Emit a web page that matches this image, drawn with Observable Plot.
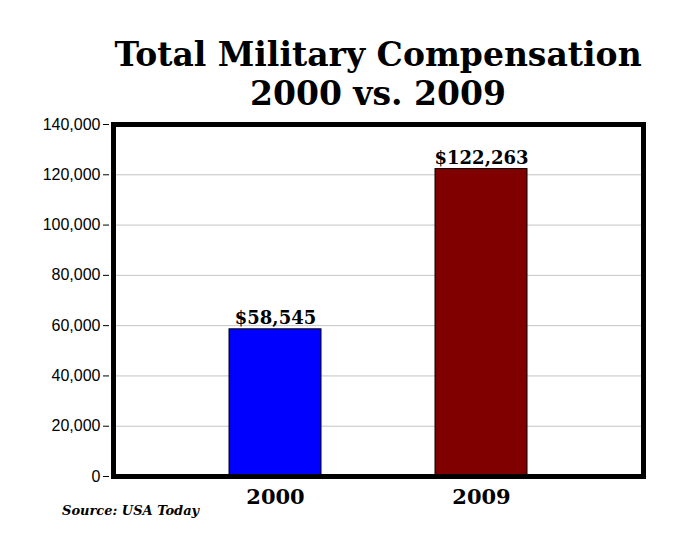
<!DOCTYPE html>
<html>
<head>
<meta charset="utf-8">
<script src="https://cdn.jsdelivr.net/npm/d3@7"></script>
<script src="https://cdn.jsdelivr.net/npm/@observablehq/plot@0.6"></script>
<style>
  body { margin: 0; background: #fff; }
  #wrap { position: relative; width: 687px; height: 550px; background: #fff; }
  #title {
    box-sizing: border-box; height: 115px; padding-top: 35px; margin-left: 113px; width: 530px;
    text-align: center; font-family: "DejaVu Serif", serif; font-weight: bold; font-size: 33px; line-height: 39px; color: #000;
    white-space: nowrap;
  }
  #caption {
    position: absolute; left: 62px; top: 504px; font-family: "DejaVu Serif", serif; font-weight: bold; font-style: italic;
    font-size: 13px; line-height: 13px; color: #000;
  }
</style>
</head>
<body>
<div id="wrap">
  <div id="title">Total Military Compensation<br>2000 vs. 2009</div>
  <div id="chart"></div>
  <div id="caption">Source: USA Today</div>
</div>
<script>
const years = ["2000", "2009"];
const compensation = [58545, 122263];
const barColors = ["#0000ff", "#800000"];
const yTicks = [0, 20000, 40000, 60000, 80000, 100000, 120000, 140000];

const data = years.map((year, i) => ({year, value: compensation[i]}));
const serif = "DejaVu Serif, serif";

const chart = Plot.plot({
  width: 687,
  height: 400,
  marginTop: 9,
  marginBottom: 39,
  marginLeft: 113,
  marginRight: 44,
  style: {fontFamily: "Liberation Sans, Arial, sans-serif", fontSize: "16px", color: "#000", background: "#fff"},
  x: {domain: years, paddingInner: 0.555, paddingOuter: 0.563, label: null},
  y: {domain: [0, 140000], label: null},
  color: {domain: years, range: barColors},
  marks: [
    Plot.gridY(yTicks, {stroke: "#c4c4c4", strokeOpacity: 1}),
    Plot.barY(data, {x: "year", y: "value", fill: "year", stroke: "#000", strokeWidth: 1}),
    Plot.text(data, {x: "year", y: "value", text: d => "$" + d3.format(",")(d.value), lineAnchor: "bottom", dy: -5,
      fontFamily: serif, fontWeight: "bold", fontSize: 18, fill: "#000"}),
    Plot.frame({stroke: "#000", strokeWidth: 5}),
    Plot.axisY(yTicks, {tickSize: 6, dx: -4, tickFormat: d3.format(","), fontSize: 16, label: null}),
    Plot.axisX({tickSize: 0, tickPadding: 13, fontFamily: serif, fontWeight: "bold", fontSize: 21, label: null})
  ]
});
document.getElementById("chart").appendChild(chart);
</script>
</body>
</html>
